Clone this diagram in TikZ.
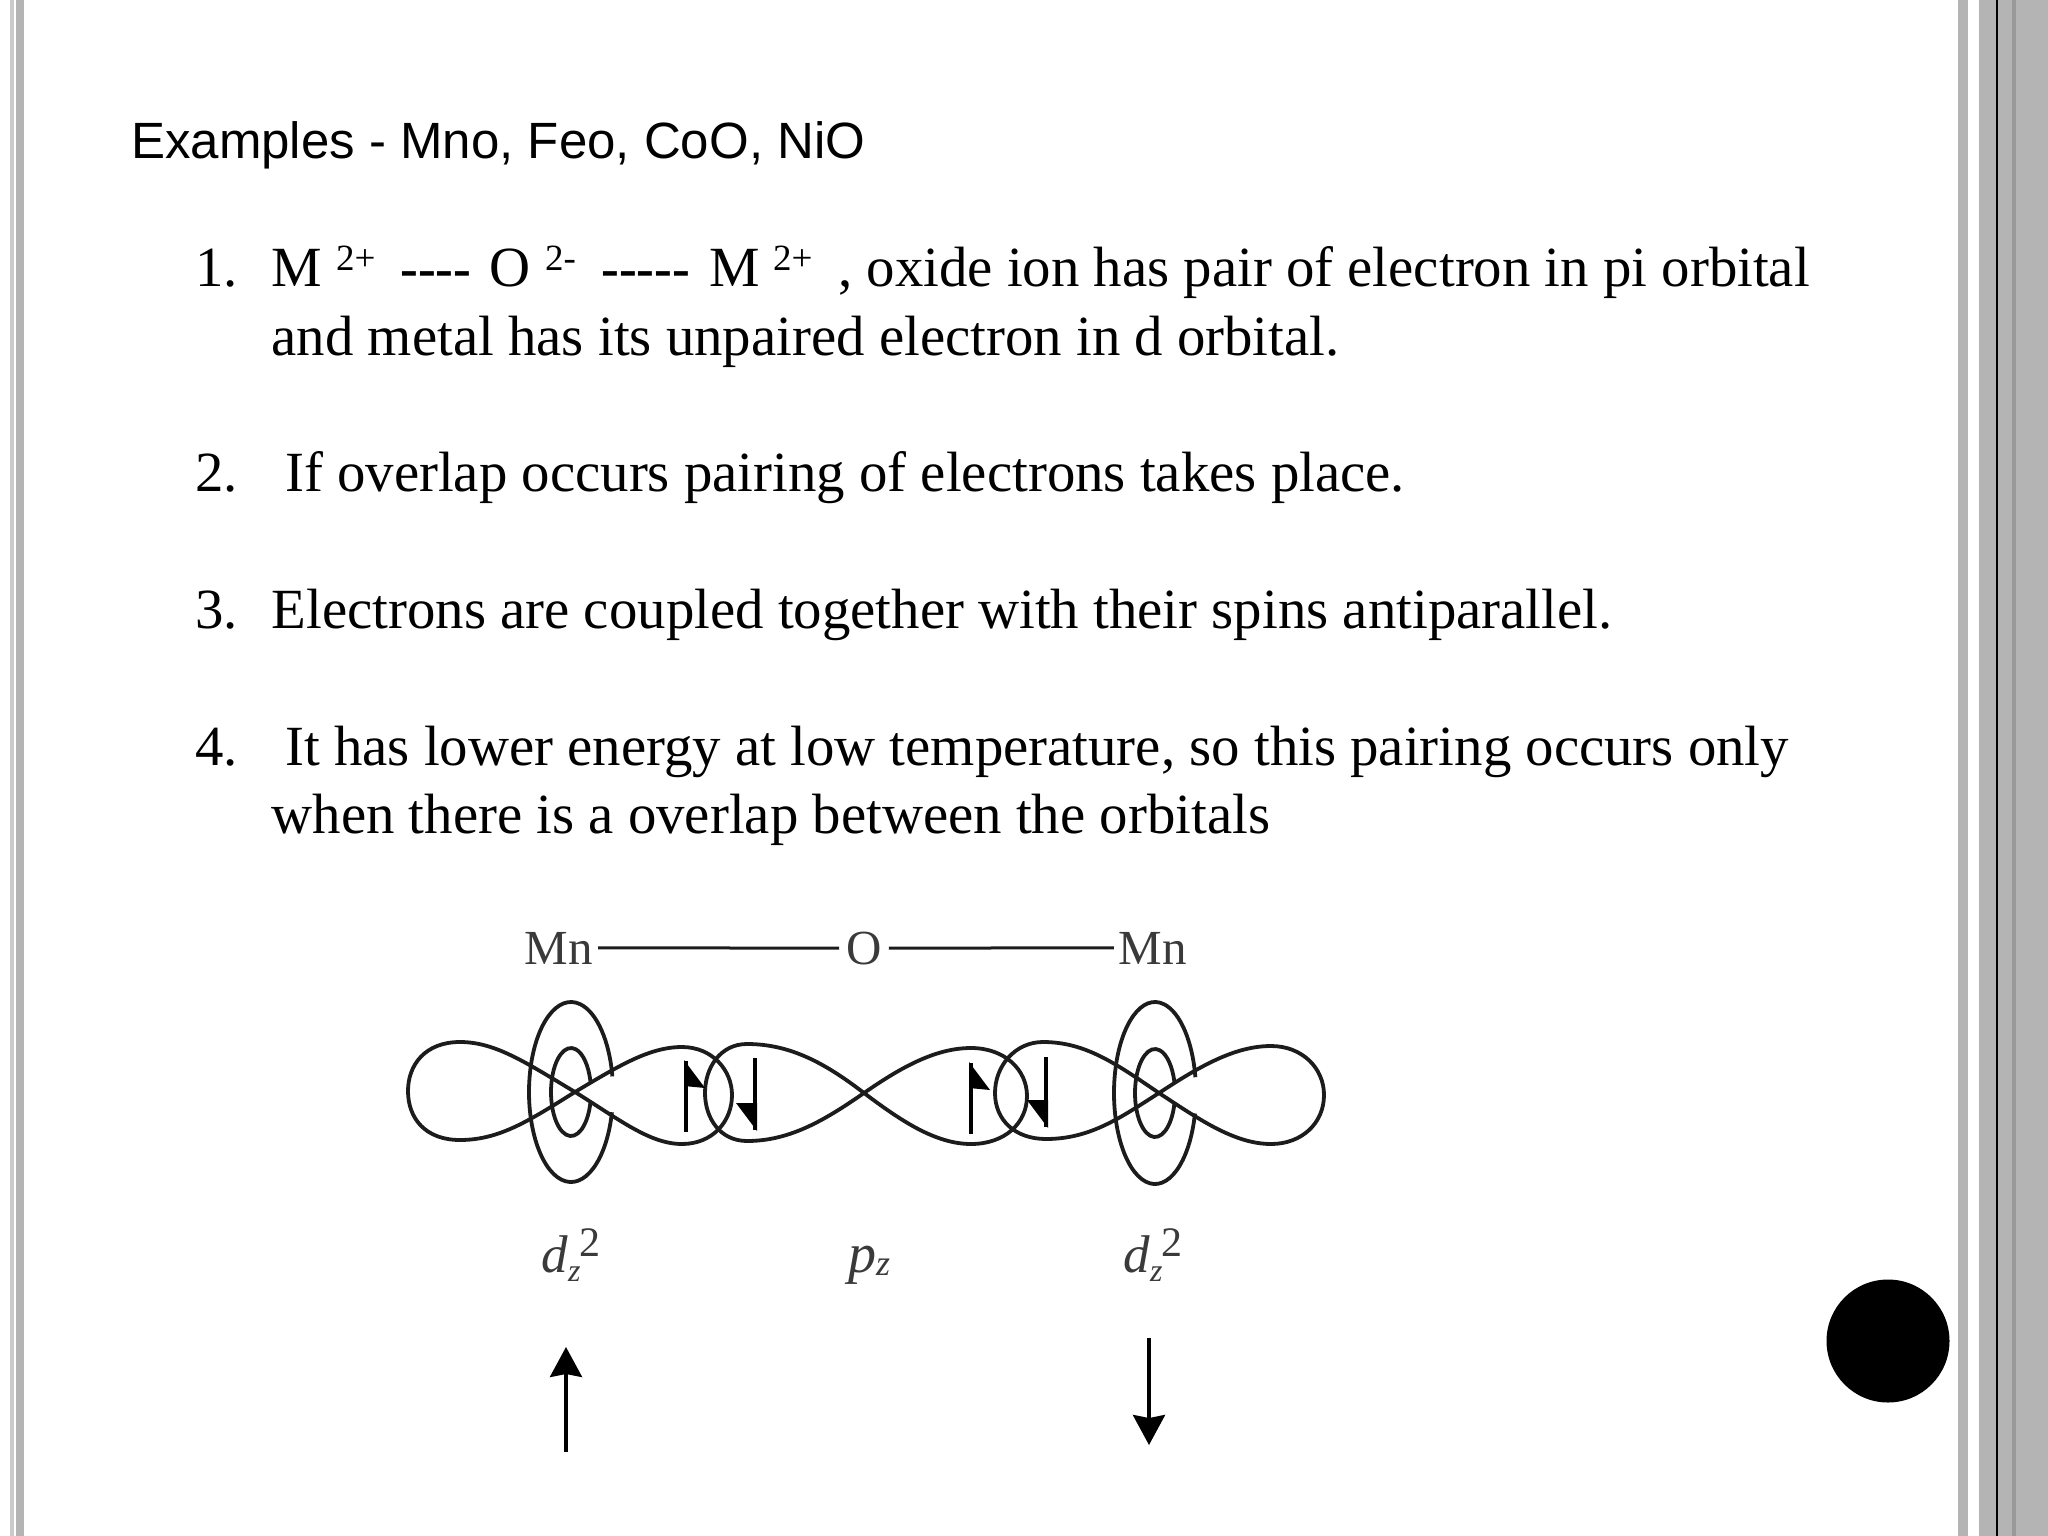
\documentclass[tikz,border=0pt]{standalone}
\usepackage{fontspec}
\usetikzlibrary{arrows.meta}
\setmainfont{Liberation Serif}
\newfontfamily\headfont{Liberation Sans}
\definecolor{band}{HTML}{B4B4B4}
\definecolor{orbink}{HTML}{1C1C1C}
\definecolor{labelink}{HTML}{3A3A3A}
\tikzset{
  listline/.style={anchor=base west, inner sep=0pt, font=\fontsize{56.8}{62}\selectfont},
  dashline/.style={anchor=base west, inner sep=0pt, font=\fontsize{53.5}{60}\bfseries\selectfont},
  supline/.style={anchor=base west, inner sep=0pt, font=\fontsize{37}{40}\selectfont},
  atomlabel/.style={inner sep=0pt, anchor=base, text=labelink, font=\fontsize{49}{52}\selectfont},
  orbital/.style={draw=orbink, line width=3.8pt},
  bond/.style={draw=orbink, line width=3pt},
  spintip/.style={draw=none, fill=black},
  spinline/.style={draw=black, line width=3.6pt},
  bigarrow/.style={draw=black, line width=3.6pt, -{Stealth[length=30pt, width=32pt, inset=3pt]}}
}
\newcommand{\dzlabel}{\fontsize{53}{54}\selectfont\textit{d}\raisebox{-9pt}{\fontsize{32}{32}\selectfont\textit{z}}\raisebox{16pt}{\kern-1pt\fontsize{42}{42}\selectfont 2}}
\begin{document}
\begin{tikzpicture}[x=1pt, y=-1pt]
    \useasboundingbox (0,0) rectangle (2048,1536);
    % slide edges
    \fill[band!70] (10,0) rectangle (14,1536);
    \fill[band] (16,0) rectangle (24,1536);
    \fill[band] (1958,0) rectangle (1968,1536);
    \fill[band] (1979,0) rectangle (2048,1536);
    \fill[black] (1996,0) rectangle (1997.5,1536);
    \fill[band!85!black] (2012,0) rectangle (2016,1536);
    \fill[black] (1888,1341) circle (61.5);
    % text
    \node[anchor=base west, inner sep=0pt, font=\headfont\fontsize{51}{55}\selectfont] (title) at (131,158) {Examples - Mno, Feo, CoO, NiO};
    \node[listline] (num1) at (195,286.5) {1.};
    \node[listline] (metalA) at (271.5,286.5) {M};
    \node[supline] (supA) at (336,270) {2+};
    \node[dashline] (dashA) at (400,286.5) {-{}-{}-{}-};
    \node[listline] (oxy) at (489,286.5) {O};
    \node[supline] (supB) at (545,270) {2-};
    \node[dashline] (dashB) at (601,286.5) {-{}-{}-{}-{}-};
    \node[listline] (metalB) at (709,286.5) {M};
    \node[supline] (supC) at (773,270) {2+};
    \node[listline] (lineA) at (838,286.5) {, oxide ion has pair of electron in pi orbital};
    \node[listline] (lineB) at (271.5,355.5) {and metal has its unpaired electron in d orbital.};
    \node[listline] (num2) at (195,491.5) {2.};
    \node[listline] (lineC) at (285,491.5) {If overlap occurs pairing of electrons takes place.};
    \node[listline] (num3) at (195,628.5) {3.};
    \node[listline] (lineD) at (271.5,628.5) {Electrons are coupled together with their spins antiparallel.};
    \node[listline] (num4) at (195,765.5) {4.};
    \node[listline] (lineE) at (285,765.5) {It has lower energy at low temperature, so this pairing occurs only};
    \node[listline] (lineF) at (271.5,833.5) {when there is a overlap between the orbitals};
    % atoms
    \node[atomlabel] (mnL) at (559,964) {Mn};
    \node[atomlabel] (oC) at (864,964) {O};
    \node[atomlabel] (mnR) at (1153,964) {Mn};
    \draw[bond] ([xshift=5pt]mnL.east) -- ([xshift=-7pt]oC.west);
    \draw[bond] ([xshift=7pt]oC.east) -- ([xshift=-5pt]mnR.west);
    % left dz2
    \draw[orbital] (575,1092) .. controls (525,1062) and (495,1042) .. (460,1042)
        .. controls (425,1042) and (408,1065) .. (408,1091)
        .. controls (408,1118) and (425,1140) .. (460,1140)
        .. controls (500,1140) and (530,1120) .. (575,1092)
        .. controls (620,1065) and (650,1047) .. (682,1047)
        .. controls (712,1047) and (732,1070) .. (732,1095)
        .. controls (732,1122) and (712,1144) .. (682,1144)
        .. controls (650,1144) and (620,1120) .. (575,1092);
    \coordinate (centL) at (571,1092);
    \draw[orbital] ([shift={(13:42 and 90)}] centL) arc[start angle=13, end angle=350, x radius=42, y radius=90];
    \draw[orbital] ([shift={(14:20 and 44)}] centL) arc[start angle=14, end angle=346, x radius=20, y radius=44];
    % pz lobes
    \draw[orbital] (864,1093) .. controls (825,1063) and (790,1044) .. (747,1044)
        .. controls (720,1044) and (705,1068) .. (705,1093)
        .. controls (705,1118) and (720,1141) .. (747,1141)
        .. controls (790,1141) and (825,1120) .. (864,1093)
        .. controls (900,1068) and (935,1048) .. (971,1048)
        .. controls (1005,1048) and (1027,1070) .. (1027,1096)
        .. controls (1027,1123) and (1005,1144) .. (971,1144)
        .. controls (935,1144) and (900,1120) .. (864,1093);
    % right dz2
    \draw[orbital] (1159,1093) .. controls (1115,1063) and (1085,1042) .. (1043,1042)
        .. controls (1015,1042) and (995,1066) .. (995,1093)
        .. controls (995,1120) and (1015,1139) .. (1046,1139)
        .. controls (1090,1139) and (1120,1118) .. (1159,1093)
        .. controls (1200,1066) and (1235,1046) .. (1271,1046)
        .. controls (1302,1046) and (1324,1068) .. (1324,1095)
        .. controls (1324,1123) and (1302,1144) .. (1271,1144)
        .. controls (1235,1144) and (1200,1120) .. (1159,1093);
    \coordinate (centR) at (1155,1093);
    \draw[orbital] ([shift={(13:41 and 91)}] centR) arc[start angle=13, end angle=350, x radius=41, y radius=91];
    \draw[orbital] ([shift={(14:20 and 44)}] centR) arc[start angle=14, end angle=346, x radius=20, y radius=44];
    % half arrows
    \draw[spinline] (686,1132) -- (686,1061);
    \fill[spintip] (684,1060) -- (705,1088) -- (684,1086) -- cycle;
    \draw[spinline] (755,1058) -- (755,1130);
    \fill[spintip] (757,1131) -- (736,1103) -- (757,1103) -- cycle;
    \draw[spinline] (971,1134) -- (971,1063);
    \fill[spintip] (969,1062) -- (990,1090) -- (969,1088) -- cycle;
    \draw[spinline] (1046,1057) -- (1046,1127);
    \fill[spintip] (1048,1128) -- (1027,1100) -- (1048,1100) -- cycle;
    % orbital names
    \node[atomlabel] (dzL) at (571,1272) {\dzlabel};
    \node[atomlabel] (pzC) at (869,1272) {\fontsize{56}{56}\selectfont\textit{p}\raisebox{-3pt}{\fontsize{36}{36}\selectfont\textit{z}}};
    \node[atomlabel] (dzR) at (1153,1272) {\dzlabel};
    % spins
    \coordinate (upA) at (566,1452);
    \coordinate (upB) at (566,1347);
    \coordinate (downA) at (1149,1338);
    \coordinate (downB) at (1149,1445);
    \draw[bigarrow] (upA) -- (upB);
    \draw[bigarrow] (downA) -- (downB);
\end{tikzpicture}
\end{document}
